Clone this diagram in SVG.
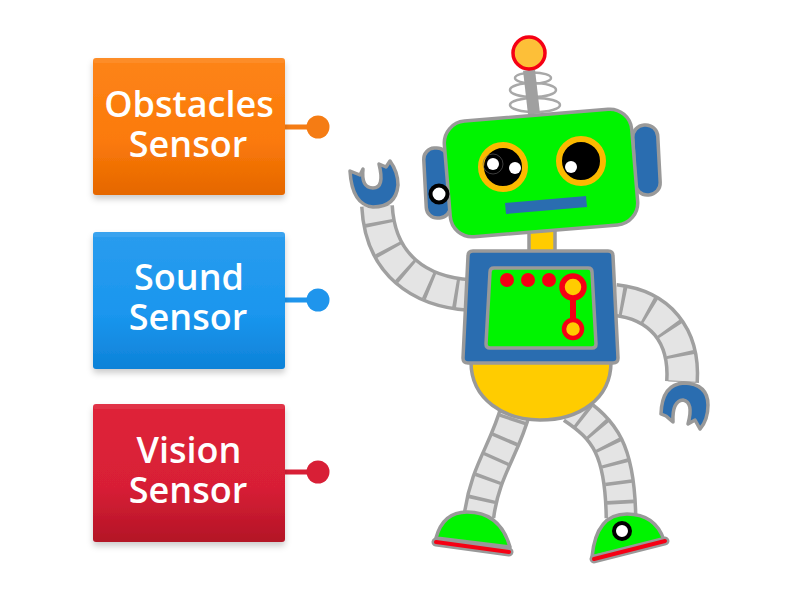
<svg xmlns="http://www.w3.org/2000/svg" width="800" height="600" viewBox="0 0 800 600">
  <style>
    .lbl { font-family: "Open Sans", "Noto Sans", sans-serif; font-size: 36px; font-weight: 600; fill: #fff; text-anchor: middle; }
    .box { filter: url(#soft); }
    .edge { stroke-width: 5; fill: none; }
    .ln { stroke: #999; stroke-width: 3.500; stroke-linejoin: round; }
    .limb { fill: none; }
    .limb-o { stroke: #a0a0a0; }
    .limb-i { stroke: #e4e4e4; }
    .limb-d { stroke: #a0a0a0; }
    .blue { fill: #2a6db0; }
    .green { fill: #00f400; }
    .gold { fill: #ffcc00; }
    .red { fill: #f50014; }
  </style>
  <defs>
    <linearGradient id="gO" x1="0" y1="0" x2="0" y2="1"><stop offset="0" stop-color="#fd8418"/><stop offset=".6" stop-color="#fb7a0a"/><stop offset="1" stop-color="#e56700"/></linearGradient>
    <linearGradient id="gB" x1="0" y1="0" x2="0" y2="1"><stop offset="0" stop-color="#2a9cee"/><stop offset=".6" stop-color="#1a96ee"/><stop offset="1" stop-color="#0e82d8"/></linearGradient>
    <linearGradient id="gR" x1="0" y1="0" x2="0" y2="1"><stop offset="0" stop-color="#df2439"/><stop offset=".6" stop-color="#d81f36"/><stop offset="1" stop-color="#b31426"/></linearGradient>
    <filter id="soft" x="-10%" y="-10%" width="120%" height="125%"><feDropShadow dx="0" dy="4" stdDeviation="3" flood-color="#000" flood-opacity=".2"/></filter>
  </defs>

  <!-- connectors from the labels to their dots -->
  <g id="connectors">
    <path class="edge" stroke="#f57c14" d="M285 127H318"/>
    <path class="edge" stroke="#1f95ec" d="M285 300H318"/>
    <path class="edge" stroke="#d81f36" d="M285 472H318"/>
  </g>

  <g id="obstacles-sensor">
    <rect class="box" x="93" y="58" width="192" height="137" rx="3" fill="url(#gO)"/>
    <rect x="93" y="58" width="192" height="5" rx="2" fill="#fff" opacity=".08"/>
    <text class="lbl" x="189" y="117">Obstacles</text>
    <text class="lbl" x="188" y="157">Sensor</text>
    <circle cx="318" cy="127" r="11.500" fill="#f57c14"/>
  </g>
  <g id="sound-sensor">
    <rect class="box" x="93" y="232" width="192" height="137" rx="3" fill="url(#gB)"/>
    <rect x="93" y="232" width="192" height="5" rx="2" fill="#fff" opacity=".08"/>
    <text class="lbl" x="189" y="290">Sound</text>
    <text class="lbl" x="188" y="330">Sensor</text>
    <circle cx="318" cy="300" r="11.500" fill="#1f95ec"/>
  </g>
  <g id="vision-sensor">
    <rect class="box" x="93" y="404" width="192" height="138" rx="3" fill="url(#gR)"/>
    <rect x="93" y="404" width="192" height="5" rx="2" fill="#fff" opacity=".08"/>
    <text class="lbl" x="189" y="463">Vision</text>
    <text class="lbl" x="188" y="503">Sensor</text>
    <circle cx="318" cy="472" r="11.500" fill="#d81f36"/>
  </g>

  <g id="robot">
    <!-- antenna and spring -->
    <g fill="none" stroke="#a8a8a8" stroke-width="2.500">
      <ellipse cx="533" cy="78" rx="18" ry="5.500"/>
      <ellipse cx="533" cy="90" rx="23" ry="7"/>
      <ellipse cx="535" cy="105" rx="25" ry="7"/>
    </g>
    <path d="M529 70L534 114" stroke="#a0a0a0" stroke-width="12" fill="none"/>
    <circle cx="529" cy="53" r="16" fill="#fdbf38" stroke="#f50014" stroke-width="3.500"/>

    <!-- arms -->
    <g class="limb">
      <path class="limb-o" stroke-width="34" d="M470 295C420 292 380 265 377 206"/>
      <path class="limb-i" stroke-width="27" d="M470 295C420 292 380 265 377 206"/>
      <path class="limb-d" stroke-width="28" stroke-dasharray="3.500 24.500" stroke-dashoffset="-12" d="M470 295C420 292 380 265 377 206"/>
      <path class="limb-o" stroke-width="34" d="M615 300C660 305 685 335 682 382"/>
      <path class="limb-i" stroke-width="27" d="M615 300C660 305 685 335 682 382"/>
      <path class="limb-d" stroke-width="28" stroke-dasharray="3.500 24.500" stroke-dashoffset="-6" d="M615 300C660 305 685 335 682 382"/>
    </g>
    <!-- legs -->
    <g class="limb">
      <path class="limb-o" stroke-width="33" d="M516 408C505 450 485 470 479 516"/>
      <path class="limb-i" stroke-width="26" d="M516 408C505 450 485 470 479 516"/>
      <path class="limb-d" stroke-width="27" stroke-dasharray="3.500 18" stroke-dashoffset="-10" d="M516 408C505 450 485 470 479 516"/>
      <path class="limb-o" stroke-width="33" d="M572 408C605 430 620 450 621 518"/>
      <path class="limb-i" stroke-width="26" d="M572 408C605 430 620 450 621 518"/>
      <path class="limb-d" stroke-width="27" stroke-dasharray="3.500 16" stroke-dashoffset="-12" d="M572 408C605 430 620 450 621 518"/>
    </g>

    <!-- hands -->
    <path class="blue ln" d="M350 171L360 175L363 169Q361 188 373 188Q385 188 379 164L386 167L390 161Q398 172 398 185Q396 207 373 207Q352 205 350 171Z"/>
    <path class="blue ln" d="M661 414Q662 384 684 383Q708 384 708 405Q708 420 700 429L695 420L688 424Q694 402 683 400Q672 401 673 422L666 416Z"/>

    <!-- shoes -->
    <path class="green ln" d="M436 538Q443 512 467 512Q500 512 510 547Z"/>
    <path d="M436 542L509 552" stroke="#999" stroke-width="9" stroke-linecap="round"/>
    <path d="M436 542L509 552" stroke="#f50014" stroke-width="4" stroke-linecap="round"/>
    <path class="green ln" d="M592 557Q596 514 627 514Q655 514 664 540Z"/>
    <path d="M594 559L665 541" stroke="#999" stroke-width="9" stroke-linecap="round"/>
    <path d="M594 559L665 541" stroke="#f50014" stroke-width="4" stroke-linecap="round"/>
    <circle cx="622" cy="531" r="8" fill="#fff" stroke="#000" stroke-width="4"/>

    <!-- ears -->
    <rect class="blue ln" x="425" y="148" width="24" height="70" rx="11" transform="rotate(-3 437 183)"/>
    <rect class="blue ln" x="634" y="125" width="25" height="70" rx="12" transform="rotate(-3 646 160)"/>

    <!-- neck and belly -->
    <rect class="gold ln" x="529" y="228" width="26" height="24"/>
    <path class="gold ln" d="M471 362C471 400 505 420 540 420C578 420 611 400 611 362Z"/>

    <!-- head -->
    <rect class="green ln" x="447" y="115" width="188" height="116" rx="22" transform="rotate(-4.700 541 173)"/>
    <circle cx="503" cy="167" r="22" fill="#000" stroke="#fbb900" stroke-width="6"/>
    <circle cx="493" cy="164" r="10" fill="none" stroke="#666" stroke-width=".6"/>
    <circle cx="493" cy="164" r="6" fill="#fff"/>
    <circle cx="515" cy="168" r="6" fill="#fff"/>
    <circle cx="581" cy="161" r="22" fill="#000" stroke="#fbb900" stroke-width="6"/>
    <circle cx="571" cy="167" r="6" fill="#fff"/>
    <path class="blue" d="M505 203L586 196L587 207L506 214Z"/>
    <circle cx="439" cy="194" r="8.500" fill="#fff" stroke="#000" stroke-width="4"/>

    <!-- torso -->
    <path class="blue ln" d="M473 251H608Q613 251 613 256L618 358Q618 363 613 363H468Q463 363 463 358L468 256Q468 251 473 251Z"/>
    <path class="green ln" d="M494 268H588Q592 268 592 272L596 344Q596 348 592 348H490Q486 348 486 344L490 272Q490 268 494 268Z"/>
    <circle class="red" cx="507" cy="280" r="7"/>
    <circle class="red" cx="528" cy="280" r="7"/>
    <circle class="red" cx="549" cy="280" r="7"/>
    <path d="M573 287V329" stroke="#f50014" stroke-width="6"/>
    <circle class="gold" cx="573" cy="287" r="11" stroke="#f50014" stroke-width="5.500"/>
    <circle class="gold" cx="573" cy="329" r="9" stroke="#f50014" stroke-width="4.500"/>
  </g>
</svg>
